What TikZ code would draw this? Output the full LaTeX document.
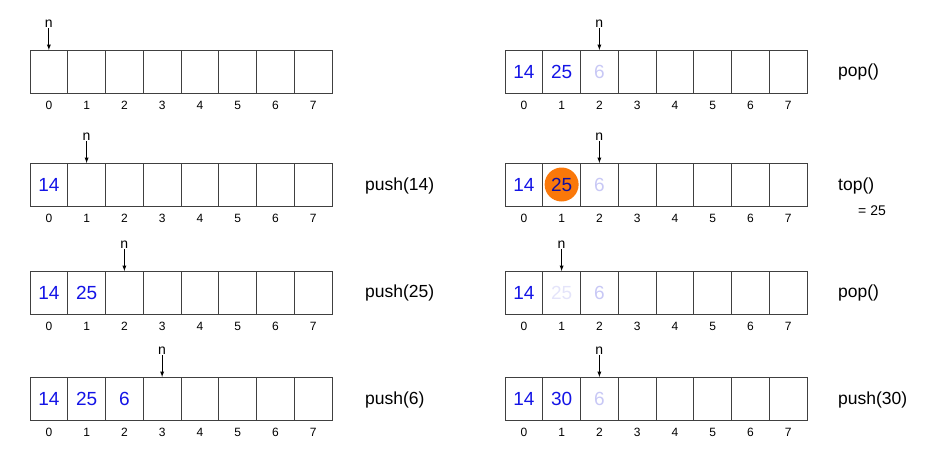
\documentclass[tikz,border=0pt]{standalone}
\usepackage{fontspec}
\setmainfont{Liberation Sans}
\usetikzlibrary{positioning}
\definecolor{valblue}{RGB}{20,20,230}
\definecolor{fadeA}{RGB}{200,200,245}
\definecolor{fadeB}{RGB}{228,228,250}
\definecolor{hilite}{RGB}{250,120,10}
\tikzset{
  cell/.style={draw=black!75, line width=0.8pt, minimum width=37.75pt, minimum height=43pt, inner sep=0pt, outer sep=0pt},
  idx/.style={font=\fontsize{12}{12}\selectfont, inner sep=0pt},
  val/.style={font=\fontsize{19}{19}\selectfont, text=valblue, inner sep=0pt},
  ptr/.style={font=\fontsize{14}{14}\selectfont, inner sep=0pt},
  op/.style={font=\fontsize{17.5}{17.5}\selectfont, anchor=west, inner sep=0pt}
}
% #1 row name, #2 left x, #3 top y, #4 cell pointed at by n
\newcommand{\stackrow}[4]{%
  \foreach \i in {0,...,7} {
    \node[cell] (#1-\i) at ({#2+37.75*(\i+0.5)},{#3+21.5}) {};
    \node[idx, below=8pt of #1-\i] {\i};
  }
  \node[ptr, above=22pt of #1-#4] (#1-n) {n};
  \draw[-latex, line width=0.9pt] (#1-n) -- (#1-#4.north);
}
\begin{document}
\begin{tikzpicture}[x=1pt, y=-1pt]
   \useasboundingbox (0,0) rectangle (940,464);
   % left column
   \stackrow{l1}{30}{50}{0}
   \stackrow{l2}{30}{163}{1}
   \stackrow{l3}{30}{271}{2}
   \stackrow{l4}{30}{377}{3}
   \node[val] at (l2-0) {14};
   \node[val] at (l3-0) {14};
   \node[val] at (l3-1) {25};
   \node[val] at (l4-0) {14};
   \node[val] at (l4-1) {25};
   \node[val] at (l4-2) {6};
   \node[op] (o2) at (365,186) {push(14)};
   \node[op] (o3) at (365,293) {push(25)};
   \node[op] (o4) at (365,400) {push(6)};
   % right column
   \stackrow{r1}{505}{50}{2}
   \stackrow{r2}{505}{163}{2}
   \stackrow{r3}{505}{271}{1}
   \stackrow{r4}{505}{377}{2}
   \node[val] at (r1-0) {14};
   \node[val] at (r1-1) {25};
   \node[val, text=fadeA] at (r1-2) {6};
   \node[val] at (r2-0) {14};
   \node[circle, fill=hilite, minimum size=34pt, inner sep=0pt] at (r2-1) {};
   \node[val, text=valblue!70!black] at (r2-1) {25};
   \node[val, text=fadeA] at (r2-2) {6};
   \node[val] at (r3-0) {14};
   \node[val, text=fadeB] at (r3-1) {25};
   \node[val, text=fadeA] at (r3-2) {6};
   \node[val] at (r4-0) {14};
   \node[val] at (r4-1) {30};
   \node[val, text=fadeA] at (r4-2) {6};
   \node[op] (p1) at (838,72) {pop()};
   \node[op] (p2) at (838,186) {top()};
   \node[op, font=\fontsize{14}{14}\selectfont] (p2v) at (858,211) {= 25};
   \node[op] (p3) at (838,293) {pop()};
   \node[op] (p4) at (838,400) {push(30)};
\end{tikzpicture}
\end{document}
